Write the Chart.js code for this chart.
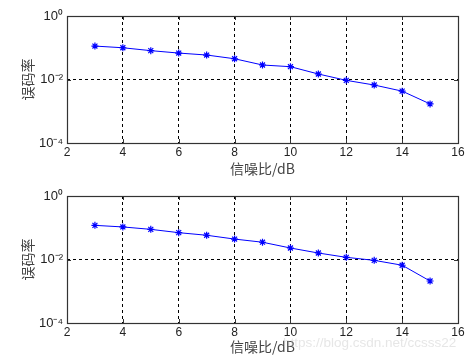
<!DOCTYPE html>
<html>
<head>
<meta charset="utf-8">
<script src="https://cdn.jsdelivr.net/npm/chart.js@4/dist/chart.umd.min.js"></script>
<style>
html,body{margin:0;padding:0;background:#fff;}
#wrap{position:relative;width:474px;height:358px;overflow:hidden;}
.box{position:absolute;left:0;width:474px;}
#b1{top:0;height:180px;}
#b2{top:180px;height:178px;}
#wm{position:absolute;left:283px;top:335px;font:13.5px "Liberation Sans",Arial,sans-serif;color:rgba(200,200,200,0.45);white-space:nowrap;}
</style>
</head>
<body>
<div id="wrap">
  <div class="box" id="b1"><canvas id="c1"></canvas></div>
  <div class="box" id="b2"><canvas id="c2"></canvas></div>
  <div id="wm">https://blog.csdn.net/ccsss22</div>
</div>
<script>
// Data
const snr = [3, 4, 5, 6, 7, 8, 9, 10, 11, 12, 13, 14, 15];
const berTop = [0.113, 0.100, 0.081, 0.068, 0.059, 0.045, 0.0286, 0.0253, 0.0149, 0.0094, 0.0067, 0.0043, 0.0017];
const berBottom = [0.119, 0.106, 0.089, 0.070, 0.058, 0.044, 0.035, 0.023, 0.016, 0.0117, 0.0094, 0.0066, 0.0021];
const xTicks = [2, 4, 6, 8, 10, 12, 14, 16];
const yTicks = [1e-4, 1e-2, 1];
const yTickLabels = ['10\u207B\u2074', '10\u207B\u00B2', '10\u2070'];
const xTitle = '信噪比/dB';
const yTitle = '误码率';

const boxPlugin = {
  id: 'matlabBox',
  afterDraw(chart) {
    const {ctx, chartArea: a, scales} = chart;
    ctx.save();
    ctx.strokeStyle = '#333';
    ctx.lineWidth = 1;
    ctx.beginPath();
    scales.x.ticks.forEach(t => {
      const px = Math.round(scales.x.getPixelForValue(t.value)) + 0.5;
      ctx.moveTo(px, a.bottom); ctx.lineTo(px, a.bottom - 4);
      ctx.moveTo(px, a.top); ctx.lineTo(px, a.top + 4);
    });
    scales.y.ticks.forEach(t => {
      const py = Math.round(scales.y.getPixelForValue(t.value)) + 0.5;
      ctx.moveTo(a.left, py); ctx.lineTo(a.left + 4, py);
      ctx.moveTo(a.right, py); ctx.lineTo(a.right - 4, py);
    });
    ctx.stroke();
    ctx.strokeStyle = '#333';
    ctx.lineWidth = 1.2;
    ctx.strokeRect(Math.round(a.left) + 0.5, Math.round(a.top) + 0.5, Math.round(a.right - a.left), Math.round(a.bottom - a.top));
    ctx.restore();
  }
};

function makeChart(id, values, xAxisHeight) {
  return new Chart(document.getElementById(id), {
    type: 'line',
    data: {
      datasets: [{
        data: snr.map((x, i) => ({x: x, y: values[i]})),
        borderColor: '#0000ff',
        backgroundColor: '#0000ff',
        borderWidth: 1,
        pointStyle: 'star',
        pointRadius: 3.5,
        pointBorderWidth: 1.2,
        pointBorderColor: '#0000ff',
        tension: 0,
        fill: false
      }]
    },
    options: {
      responsive: true,
      maintainAspectRatio: false,
      animation: false,
      layout: {padding: {top: 16, right: 16, left: 0, bottom: 0}},
      plugins: {legend: {display: false}, tooltip: {enabled: false}},
      scales: {
        x: {
          type: 'linear',
          min: 2, max: 16,
          afterBuildTicks: s => { s.ticks = xTicks.map(v => ({value: v})); },
          afterFit: s => { s.height = xAxisHeight; },
          ticks: {
            color: '#222',
            font: {family: '"Liberation Sans", Arial, sans-serif', size: 12},
            padding: 2,
            maxRotation: 0,
            callback: v => String(v)
          },
          grid: {
            drawTicks: false,
            color: c => (c.tick && c.tick.value > 2 && c.tick.value < 16) ? '#000' : 'rgba(0,0,0,0)',
            lineWidth: 1
          },
          border: {display: false, dash: [3, 3]},
          title: {
            display: true, text: xTitle, color: '#444',
            font: {family: '"Noto Sans CJK SC", sans-serif', size: 14},
            padding: {top: 0, bottom: 3}
          }
        },
        y: {
          type: 'logarithmic',
          min: 1e-4, max: 1,
          afterBuildTicks: s => { s.ticks = yTicks.map(v => ({value: v})); },
          afterFit: s => { s.width = 67; },
          ticks: {
            color: '#222',
            font: {family: '"Liberation Sans", Arial, sans-serif', size: 13},
            padding: 4,
            callback: function(v) { const i = yTicks.indexOf(v); return i >= 0 ? yTickLabels[i] : ''; }
          },
          grid: {
            drawTicks: false,
            color: c => (c.tick && c.tick.value === 1e-2) ? '#000' : 'rgba(0,0,0,0)',
            lineWidth: 1
          },
          border: {display: false, dash: [3, 3]},
          title: {
            display: true, text: yTitle, color: '#444',
            font: {family: '"Noto Sans CJK SC", sans-serif', size: 14},
            padding: {top: 19, bottom: 0}
          }
        }
      }
    },
    plugins: [boxPlugin]
  });
}

makeChart('c1', berTop, 37);
makeChart('c2', berBottom, 35);
</script>
</body>
</html>
